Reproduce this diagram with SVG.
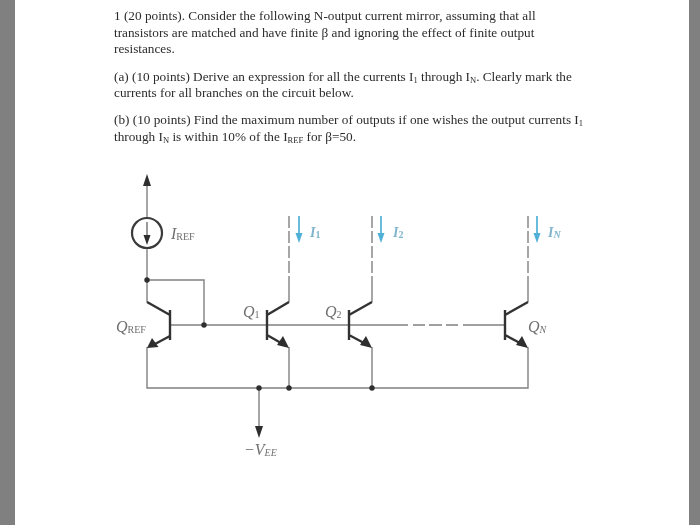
<svg xmlns="http://www.w3.org/2000/svg" width="700" height="526" viewBox="0 0 700 526">
<defs><filter id="soft" x="-5%" y="-5%" width="110%" height="110%"><feGaussianBlur stdDeviation="0.45"/></filter></defs>
<style>
.q{font-family:"Liberation Serif",serif;font-size:13.25px;fill:#2c2c2c}
.s{font-size:8.5px}
.w{fill:none;stroke:#808080;stroke-width:1.4}
.d{fill:none;stroke:#808080;stroke-width:1.4;stroke-dasharray:12 3}
.t{fill:none;stroke:#333;stroke-width:2.4}
.h{fill:#2e2e2e}
.j{fill:#2e2e2e}
.l{font-family:"Liberation Serif",serif;font-style:italic;font-size:16px;fill:#6f6f6f}
.b{font-family:"Liberation Serif",serif;font-style:italic;font-weight:bold;font-size:14px;fill:#7fb4cc}
.ss{font-size:10px}
.up{font-style:normal;font-size:10px}
.c{fill:none;stroke:#4fb0d8;stroke-width:1.7}
.ch{fill:#4fb0d8}
</style>
<rect width="700" height="526" fill="#fff"/>
<rect x="0" y="0" width="15" height="525" fill="#808080"/>
<rect x="689" y="0" width="11" height="525" fill="#808080"/>
<g filter="url(#soft)">
<g id="question">
<text class="q" x="114" y="20">1 (20 points). Consider the following N-output current mirror, assuming that all</text>
<text class="q" x="114" y="37">transistors are matched and have finite β and ignoring the effect of finite output</text>
<text class="q" x="114" y="53">resistances.</text>
<text class="q" x="114" y="81">(a) (10 points) Derive an expression for all the currents I<tspan class="s" dy="1.5">1</tspan><tspan dy="-1.5"> through I</tspan><tspan class="s" dy="1.5">N</tspan><tspan dy="-1.5">.  Clearly mark the</tspan></text>
<text class="q" x="114" y="97">currents for all branches on the circuit below.</text>
<text class="q" x="114" y="124">(b) (10 points) Find the maximum number of outputs if one wishes the output currents I<tspan class="s" dy="1.5">1</tspan></text>
<text class="q" x="114" y="141">through I<tspan class="s" dy="1.5">N</tspan><tspan dy="-1.5"> is within 10% of the I</tspan><tspan class="s" dy="1.5">REF</tspan><tspan dy="-1.5"> for β=50.</tspan></text>
</g>
<g id="connectors">
<path class="w" d="M147 183V218M147 248V302M147 280H204V325M170 325H408M413 325H425M429 325H442M446 325H458M463 325H505"/>
<path class="w" d="M147 347V388H528V347M289 347V388M372 347V388M259 388V428"/>
<path class="w" d="M289 302V284M372 302V284M528 302V284"/>
<path class="d" d="M289 216V284M372 216V284M528 216V284"/>
<path class="h" d="M147 174L143 186H151ZM259 438L255 426H263Z"/>
<g class="j"><circle cx="147" cy="280" r="2.7"/><circle cx="204" cy="325" r="2.7"/><circle cx="259" cy="388" r="2.7"/><circle cx="289" cy="388" r="2.7"/><circle cx="372" cy="388" r="2.7"/></g>
</g>
<g id="IREF">
<circle cx="147" cy="233" r="15" fill="#fff" stroke="#3a3a3a" stroke-width="2.2"/>
<path d="M147 222V240" stroke="#555" stroke-width="1.2" fill="none"/><path class="h" d="M147 245L143.500 235H150.500Z"/>
<text class="l" x="171" y="239">I<tspan class="up" dy="1">REF</tspan></text>
</g>
<g id="QREF">
<path class="t" d="M170 310V340M147 302L170 315"/>
<path class="t" d="M170 336L155 344"/><path class="h" d="M147 348L152 338L158.500 347Z"/>
<text class="l" x="116" y="332">Q<tspan class="up" dy="1">REF</tspan></text>
</g>
<g id="Q1">
<path class="t" d="M267 310V340M289 302L267 315M267 335L281 343"/><path class="h" d="M289 348L277 345L283 336Z"/>
<text class="l" x="243" y="317">Q<tspan class="ss" dy="1" font-style="normal">1</tspan></text>
</g>
<g id="Q2">
<path class="t" d="M349 310V340M372 302L349 315M349 335L364 343"/><path class="h" d="M372 348L360 345L366 336Z"/>
<text class="l" x="325" y="317">Q<tspan class="ss" dy="1" font-style="normal">2</tspan></text>
</g>
<g id="QN">
<path class="t" d="M505 310V340M528 302L505 315M505 335L520 343"/><path class="h" d="M528 348L516 345L522 336Z"/>
<text class="l" x="528" y="332">Q<tspan class="ss" dy="1">N</tspan></text>
</g>
<g id="I1"><path class="c" d="M299 216V238"/><path class="ch" d="M299 243L295.500 233H302.500Z"/><text class="b" x="310" y="237">I<tspan class="ss" dy="1" font-style="normal">1</tspan></text></g>
<g id="I2"><path class="c" d="M381 216V238"/><path class="ch" d="M381 243L377.500 233H384.500Z"/><text class="b" x="393" y="237">I<tspan class="ss" dy="1" font-style="normal">2</tspan></text></g>
<g id="IN"><path class="c" d="M537 216V238"/><path class="ch" d="M537 243L533.500 233H540.500Z"/><text class="b" x="548" y="237">I<tspan class="ss" dy="1">N</tspan></text></g>
<g id="VEE"><text class="l" x="244" y="455">−V<tspan class="ss" dy="1">EE</tspan></text></g>
</g>
</svg>
